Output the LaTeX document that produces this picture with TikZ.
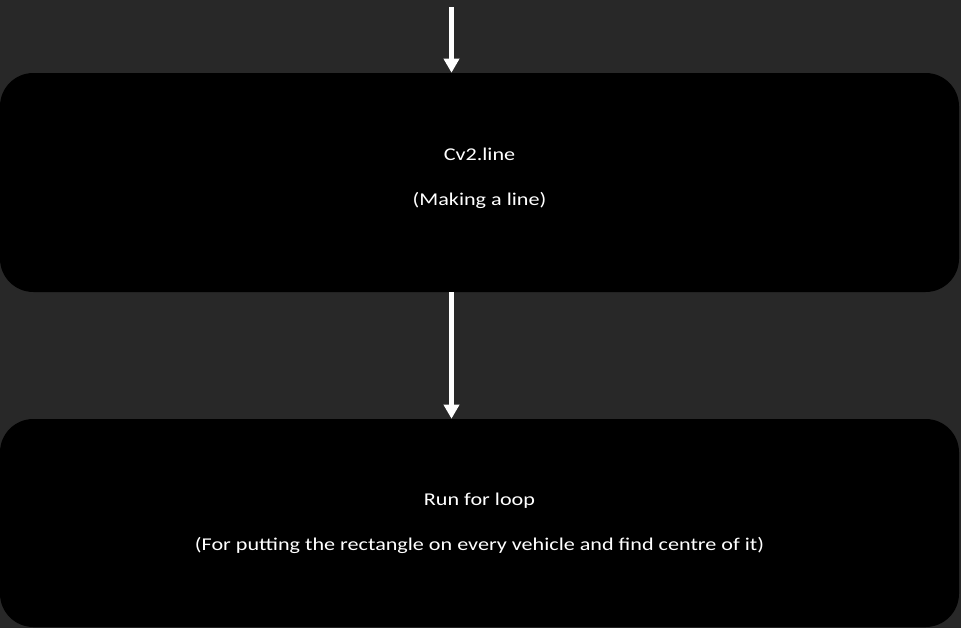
\documentclass[tikz,border=0pt]{standalone}
\usepackage{fontspec}
\setmainfont{Carlito}[FakeStretch=1.23]
\usetikzlibrary{arrows.meta}
\usetikzlibrary{positioning}

\definecolor{bggray}{RGB}{40,40,40}

\begin{document}
\begin{tikzpicture}[x=0.75pt, y=-0.75pt,
    flowbox/.style={fill=black, rounded corners=25pt, minimum width=719.25pt,
      inner sep=0pt},
    flowtext/.style={text=white, align=center, font=\fontsize{13.5}{16}\selectfont},
    flowarrow/.style={white, line width=3.75pt, -{Triangle[width=11.25pt, length=10.5pt]}}]

  % ---------- Background ----------
  \fill[bggray] (0,0) rectangle (961,628);
  \useasboundingbox (0,0) rectangle (961,628);

  % ---------- Boxes ----------
  \node[flowbox, minimum height=164.25pt] at (479.5,182.5) (line) {};
  \node[flowbox, minimum height=156pt] at (479.5,523) (loop) {};

  % ---------- Labels ----------
  \node[flowtext, yshift=3.5pt] at (line.center) (lineText)
    {Cv2.line\\[17.75pt](Making a line)};
  \node[flowtext] at (loop.center) (loopText)
    {Run for loop\\[17.75pt](For putting the rectangle on every vehicle and find centre of it)};

  % ---------- Arrows ----------
  \coordinate (start) at (451.5,7);
  \draw[flowarrow] (start) -- (start |- line.north);
  \draw[flowarrow] (start |- line.south) -- (start |- loop.north);
\end{tikzpicture}
\end{document}
